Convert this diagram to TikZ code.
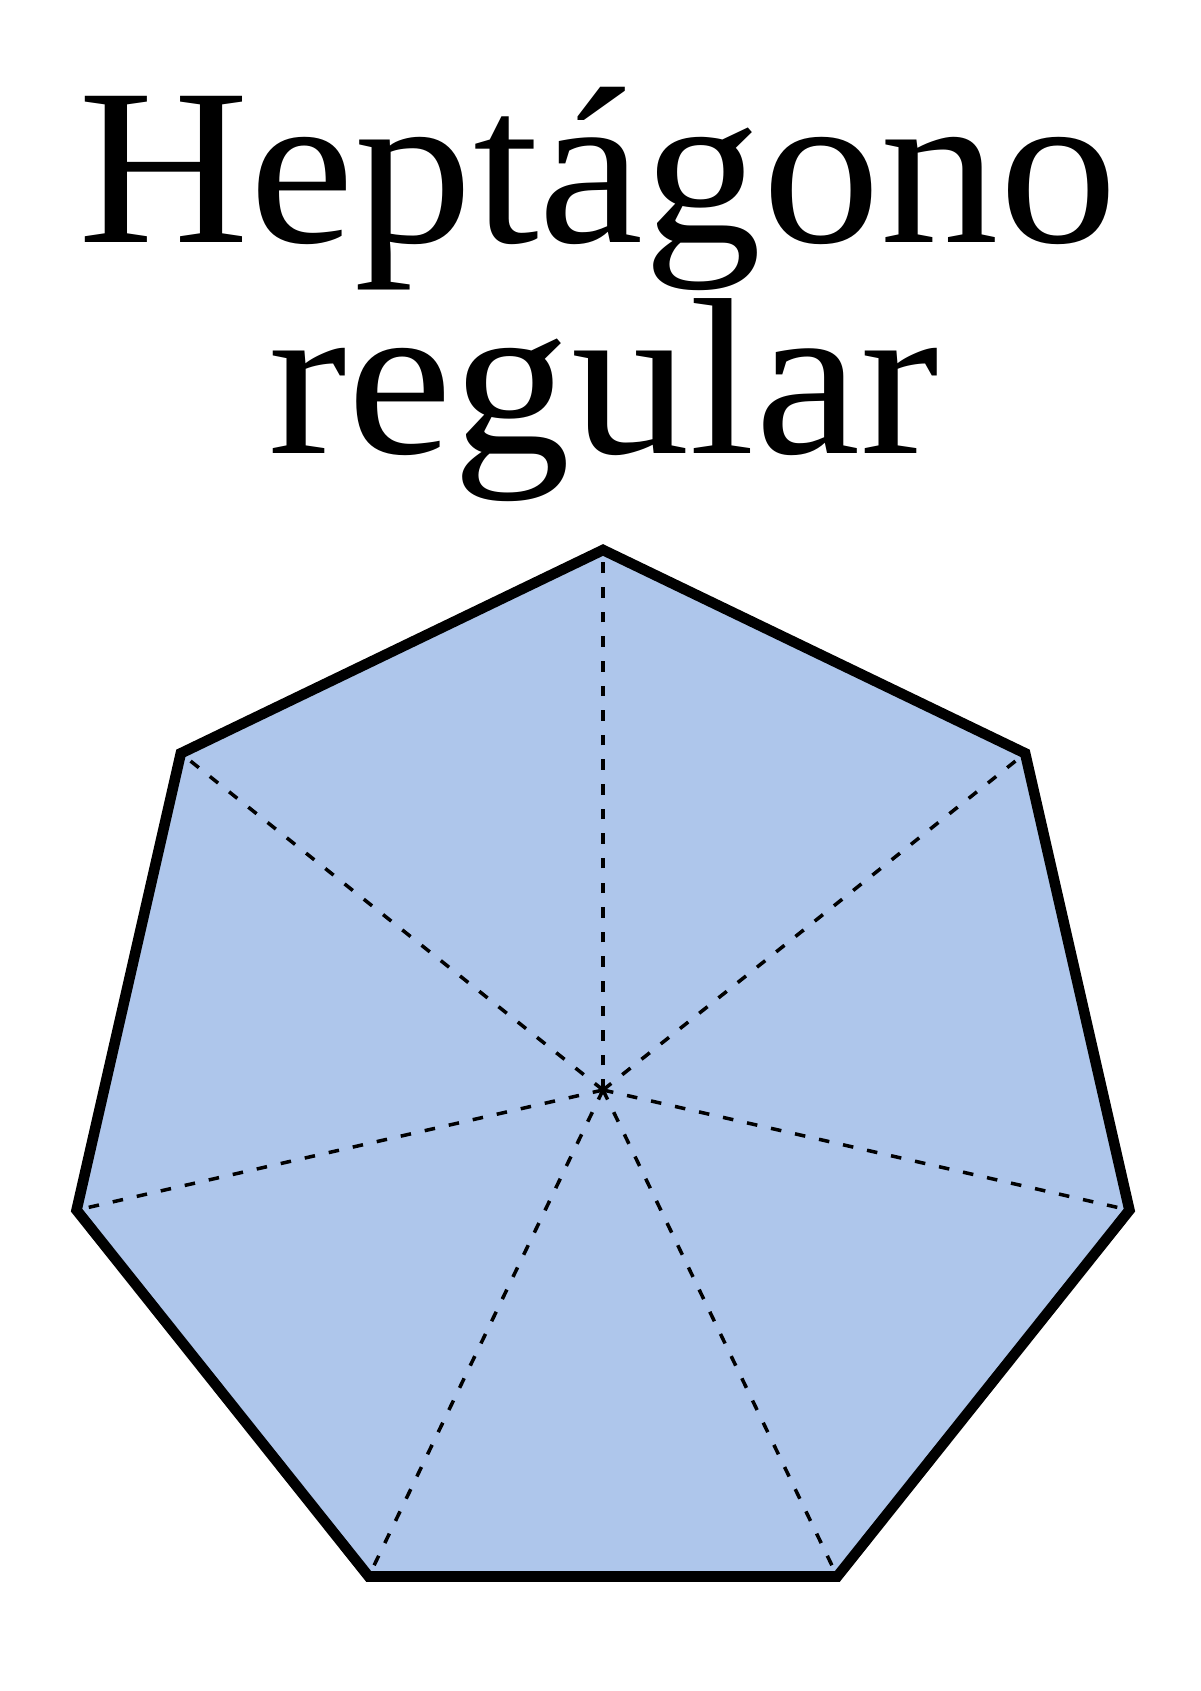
\documentclass[tikz,border=0pt]{standalone}
\usepackage{fontspec}
\setmainfont{Liberation Serif}
\definecolor{eptablu}{RGB}{174,198,235}
\begin{document}
\begin{tikzpicture}[x=0.01cm, y=0.01cm]
    % Area del disegno
    \useasboundingbox (0,0) rectangle (1200,1691);

    % Titolo
    \node[anchor=base, xscale=1.06, font=\fontsize{63.5}{60}\selectfont] (titolo) at (598,1448) {Heptágono};
    \node[anchor=base, xscale=1.06, font=\fontsize{63.5}{60}\selectfont] (sottotitolo) at (604,1237) {regular};

    % Centro e vertici
    \coordinate (c) at (603,601);
    \foreach \i in {0,...,6}
        \path (c) ++({90+\i*360/7}:540) coordinate (v\i);

    % Riempimento
    \fill[eptablu] (v0) -- (v1) -- (v2) -- (v3) -- (v4) -- (v5) -- (v6) -- cycle;

    % Raggi tratteggiati
    \foreach \i in {0,...,6}
        \draw[line width=1pt, dash pattern=on 3pt off 4pt] (c) -- (v\i);

    % Contorno
    \draw[line width=3pt, line join=miter] (v0) -- (v1) -- (v2) -- (v3) -- (v4) -- (v5) -- (v6) -- cycle;
\end{tikzpicture}
\end{document}
